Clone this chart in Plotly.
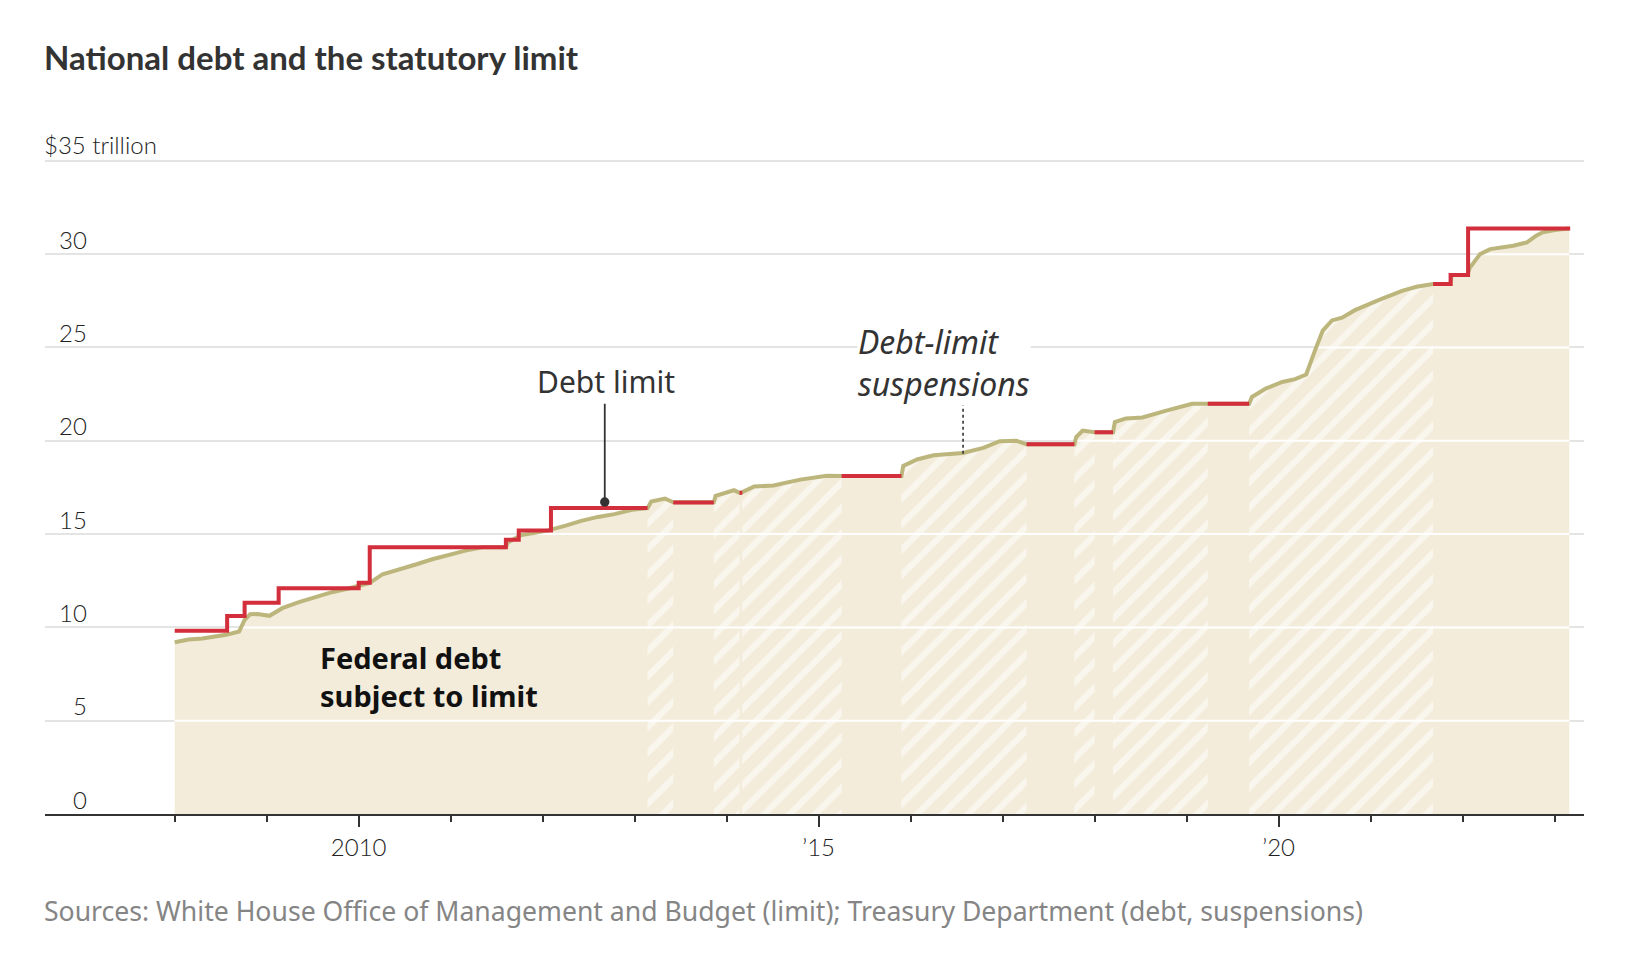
import numpy as np
import plotly.graph_objects as go

# Federal debt subject to limit, $ trillion
debt_year = [2008.00, 2008.15, 2008.30, 2008.45, 2008.56, 2008.70, 2008.76, 2008.82, 2008.90, 2009.03,
             2009.17, 2009.35, 2009.54, 2009.72, 2009.90, 2010.00, 2010.12, 2010.26, 2010.45, 2010.62,
             2010.80, 2010.98, 2011.15, 2011.34, 2011.60, 2011.62, 2011.70, 2011.77, 2011.90, 2012.06,
             2012.25, 2012.42, 2012.60, 2012.78, 2012.97, 2013.14, 2013.18, 2013.33, 2013.42, 2013.86,
             2013.88, 2014.08, 2014.14, 2014.17, 2014.30, 2014.51, 2014.80, 2015.09, 2015.25, 2015.90,
             2015.92, 2016.07, 2016.25, 2016.57, 2016.79, 2016.97, 2017.15, 2017.26, 2017.78, 2017.80,
             2017.87, 2018.00, 2018.20, 2018.22, 2018.34, 2018.52, 2018.77, 2019.06, 2019.23, 2019.68,
             2019.71, 2019.86, 2020.04, 2020.18, 2020.30, 2020.35, 2020.40, 2020.48, 2020.58, 2020.69,
             2020.83, 2021.12, 2021.35, 2021.50, 2021.68, 2021.87, 2021.88, 2022.05, 2022.08, 2022.19,
             2022.30, 2022.55, 2022.70, 2022.80, 2022.87, 2023.02, 2023.16]
debt_value = [9.20, 9.35, 9.40, 9.50, 9.60, 9.78, 10.40, 10.70, 10.72, 10.62,
              11.03, 11.35, 11.62, 11.90, 12.10, 12.25, 12.39, 12.85, 13.10, 13.37,
              13.65, 13.91, 14.10, 14.29, 14.29, 14.55, 14.75, 14.95, 15.05, 15.20,
              15.45, 15.71, 15.92, 16.07, 16.30, 16.39, 16.75, 16.90, 16.70, 16.70,
              17.05, 17.35, 17.21, 17.25, 17.55, 17.60, 17.92, 18.12, 18.11, 18.11,
              18.65, 19.00, 19.22, 19.35, 19.62, 19.98, 20.00, 19.81, 19.81, 20.20,
              20.55, 20.46, 20.46, 21.00, 21.20, 21.25, 21.60, 21.98, 21.99, 21.99,
              22.35, 22.80, 23.15, 23.30, 23.55, 24.30, 24.90, 25.90, 26.45, 26.60,
              27.00, 27.60, 28.05, 28.25, 28.40, 28.40, 28.88, 28.88, 29.28, 30.00,
              30.27, 30.45, 30.63, 30.99, 31.17, 31.31, 31.38]

# Statutory debt limit (steps), None = limit suspended
limit_year = [2008.00, 2008.57, 2008.76, 2009.13, 2010.00, 2010.12, 2011.60, 2011.74, 2012.09, 2013.14, None,
              2013.42, 2013.86, None, 2014.14, 2014.17, None, 2015.25, 2015.90, None,
              2017.26, 2017.78, None, 2018.00, 2018.20, None, 2019.23, 2019.68, None,
              2021.68, 2021.87, 2022.06, 2023.17]
limit_value = [9.815, 10.615, 11.315, 12.104, 12.394, 14.294, 14.694, 15.194, 16.394, 16.394, None,
               16.699, 16.699, None, 17.212, 17.212, None, 18.113, 18.113, None,
               19.809, 19.809, None, 20.456, 20.456, None, 21.988, 21.988, None,
               28.401, 28.881, 31.381, 31.381]

# Debt-limit suspension periods
susp_start = [2013.14, 2013.86, 2014.17, 2015.90, 2017.78, 2018.20, 2019.68]
susp_end = [2013.42, 2014.14, 2015.25, 2017.26, 2018.00, 2019.23, 2021.68]

y_ticks = [0, 5, 10, 15, 20, 25, 30, 35]
y_labels = ["0", "5", "10", "15", "20", "25", "30", "$35 trillion"]
x_ticks = [2010, 2015, 2020]
x_labels = ["2010", "’15", "’20"]
minor_years = list(range(2008, 2024))

FILL = "#f3ecdb"
DEBT = "#bcb67c"
RED = "#d22e3b"
GRID = "#e4e4e4"
DARK = "#333333"

dy = np.array(debt_year)
dv = np.array(debt_value)

fig = go.Figure()

# beige area under the debt line
fig.add_trace(go.Scatter(x=dy, y=dv, mode="lines", line=dict(width=0),
                         fill="tozeroy", fillcolor=FILL, hoverinfo="skip"))

# hatched suspension periods
for s, e in zip(susp_start, susp_end):
    m = (dy >= s) & (dy <= e)
    fig.add_trace(go.Scatter(x=dy[m], y=dv[m], mode="lines", line=dict(width=0),
                             fill="tozeroy", fillcolor=FILL,
                             fillpattern=dict(shape="/", fgcolor="#fbf8f0", fgopacity=0.85,
                                              bgcolor=FILL, size=18, solidity=0.35),
                             hoverinfo="skip"))

# gridlines show white where they cross the area
gx, gy = [], []
for lv in y_ticks[1:]:
    start = dy[0] if dv[0] >= lv else None
    for k in range(1, len(dy)):
        a, b = dv[k - 1], dv[k]
        if (a < lv) != (b < lv):
            xc = dy[k - 1] + (lv - a) / (b - a) * (dy[k] - dy[k - 1])
            if b >= lv:
                start = xc
            else:
                gx += [start, xc, None]
                gy += [lv, lv, None]
                start = None
    if start is not None:
        gx += [start, dy[-1], None]
        gy += [lv, lv, None]
fig.add_trace(go.Scatter(x=gx, y=gy, mode="lines", line=dict(color="white", width=2),
                         hoverinfo="skip"))

fig.add_trace(go.Scatter(x=dy, y=dv, mode="lines", line=dict(color=DEBT, width=4)))
fig.add_trace(go.Scatter(x=limit_year, y=limit_value, mode="lines", line_shape="hv",
                         line=dict(color=RED, width=4)))

tick_font = dict(family="Lato, sans-serif", size=24, color="#222222", weight=300)

fig.update_xaxes(range=[2006.59, 2023.32], showgrid=False, zeroline=False,
                 showline=True, linecolor=DARK, linewidth=2,
                 tickmode="array", tickvals=x_ticks, ticktext=x_labels,
                 ticks="outside", ticklen=11, tickwidth=2, tickcolor=DARK,
                 tickfont=tick_font, ticklabelstandoff=0,
                 minor=dict(tickmode="array", tickvals=minor_years, ticks="outside",
                            ticklen=6, tickwidth=1.5, tickcolor=DARK))
fig.update_yaxes(range=[0, 35.1], tickmode="array", tickvals=y_ticks[1:],
                 showticklabels=False, gridcolor=GRID, gridwidth=2, zeroline=False)

ann = []
for v, lab in zip(y_ticks, y_labels):
    if lab.startswith("$"):
        ann.append(dict(x=0, xref="paper", y=v, yref="y", text=lab, showarrow=False,
                        xanchor="left", xshift=-3, yanchor="middle", yshift=16, font=tick_font))
    else:
        ann.append(dict(x=0, xref="paper", y=v, yref="y", text=lab, showarrow=False,
                        xanchor="right", xshift=44, yanchor="middle", yshift=15, font=tick_font))

ann += [
    dict(x=0, xref="paper", y=1, yref="paper", yshift=102, xshift=-3,
         text="<b>National debt and the statutory limit</b>",
         showarrow=False, xanchor="left", yanchor="middle",
         font=dict(family="Lato, sans-serif", size=33, color=DARK)),
    dict(x=0, xref="paper", y=0, yref="paper", yshift=-97, xshift=-3,
         text="Sources: White House Office of Management and Budget (limit); Treasury Department (debt, suspensions)",
         showarrow=False, xanchor="left", yanchor="middle",
         font=dict(family="Noto Sans, sans-serif", size=26.6, color="#858585")),
    dict(x=2012.69, y=23.17, text="Debt limit", showarrow=False, xanchor="center", yanchor="middle",
         font=dict(family="Noto Sans, sans-serif", size=30, color=DARK)),
    dict(x=2012.675, y=16.72, ax=2012.675, ay=22.06, axref="x", ayref="y", text="",
         showarrow=True, arrowhead=6, arrowsize=1.3, arrowwidth=1.8, arrowcolor=DARK),
    dict(x=2015.45, y=24.22, xshift=-3, text="<i>Debt-limit<br>suspensions</i>", showarrow=False,
         xanchor="left", yanchor="middle", align="left", bgcolor="white", borderpad=0,
         font=dict(family="Noto Sans, sans-serif", size=32, color=DARK)),
    dict(x=2009.59, y=7.39, xshift=-3, text="<b>Federal debt<br>subject to limit</b>", showarrow=False,
         xanchor="left", yanchor="middle", align="left",
         font=dict(family="Noto Sans, sans-serif", size=29, color="#111111")),
]

fig.update_layout(
    width=1610, height=942,
    margin=dict(l=37, r=34, t=151, b=136),
    paper_bgcolor="white", plot_bgcolor="white",
    showlegend=False, annotations=ann,
    shapes=[dict(type="line", xref="x", yref="y", x0=2016.57, x1=2016.57, y0=19.3, y1=22.06,
                 line=dict(color=DARK, width=1.6, dash="dot"))],
)

fig.write_html("out.html")
